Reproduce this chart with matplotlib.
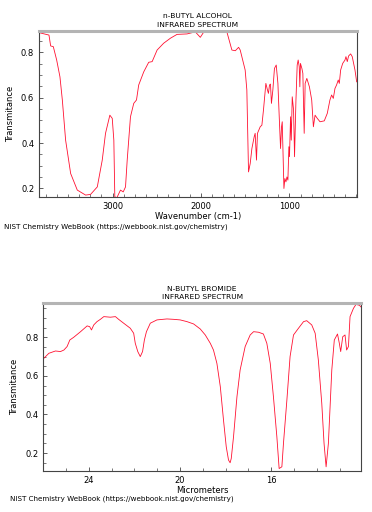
import numpy as np
import matplotlib.pyplot as plt
from matplotlib.ticker import MultipleLocator

# %% DATA: n-butyl alcohol (wavenumber, transmittance)
alcohol_wn = [3834, 3718, 3699, 3669, 3631, 3594, 3567, 3530, 3473, 3398, 3304, 3248,
              3172, 3116, 3079, 3030, 3003, 2985, 2974, 2950, 2910, 2879, 2853, 2834,
              2797, 2760, 2729, 2704, 2647, 2591, 2552, 2496, 2422, 2346, 2271, 2158,
              2064, 2008, 1971, 1858, 1707, 1651, 1612, 1575, 1557, 1501, 1482, 1463,
              1444, 1425, 1399, 1388, 1373, 1362, 1331, 1312, 1294, 1267, 1249, 1238,
              1226, 1215, 1204, 1188, 1170, 1150, 1131, 1116, 1101, 1090, 1082, 1071,
              1063, 1052, 1040, 1029, 1018, 1007, 1000, 988, 980, 969, 954, 943, 927,
              913, 902, 890, 883, 876, 860, 849, 834, 823, 804, 775, 749, 730, 711,
              686, 655, 607, 573, 543, 524, 505, 486, 468, 449, 437, 422, 399, 373,
              362, 347, 332, 309, 291, 260, 241]
alcohol_t = [0.887, 0.876, 0.828, 0.825, 0.766, 0.692, 0.590, 0.413, 0.266, 0.193, 0.171, 0.174,
             0.207, 0.325, 0.443, 0.523, 0.509, 0.413, 0.163, 0.160, 0.193, 0.185, 0.207, 0.325,
             0.516, 0.575, 0.590, 0.656, 0.714, 0.756, 0.759, 0.810, 0.840, 0.862, 0.879, 0.881,
             0.890, 0.866, 0.888, 0.892, 0.889, 0.810, 0.807, 0.822, 0.810, 0.722, 0.634, 0.273,
             0.310, 0.376, 0.428, 0.443, 0.325, 0.443, 0.472, 0.479, 0.546, 0.663, 0.634, 0.619,
             0.656, 0.660, 0.575, 0.634, 0.729, 0.744, 0.663, 0.516, 0.376, 0.472, 0.494, 0.325,
             0.200, 0.244, 0.229, 0.251, 0.237, 0.384, 0.340, 0.516, 0.413, 0.604, 0.546, 0.340, 0.590,
             0.744, 0.766, 0.737, 0.648, 0.751, 0.729, 0.707, 0.443, 0.663, 0.685, 0.648, 0.590, 0.472, 0.523,
             0.509, 0.494, 0.498, 0.531, 0.590, 0.612, 0.597, 0.641, 0.656, 0.678, 0.663, 0.722, 0.751, 0.766,
             0.781, 0.759, 0.784, 0.793, 0.781, 0.722, 0.670]

# %% DATA: n-butyl bromide (micrometers, transmittance)
bromide_um = [25.97, 25.75, 25.46, 25.24, 25.09, 24.95, 24.83, 24.66, 24.36, 24.07, 23.96, 23.88,
              23.78, 23.64, 23.49, 23.34, 23.05, 22.83, 22.69, 22.47, 22.18, 22.03, 21.96, 21.85,
              21.74, 21.64, 21.56, 21.47, 21.30, 21.01, 20.57, 20.28, 19.99, 19.69, 19.40, 19.11,
              18.89, 18.67, 18.53, 18.38, 18.23, 18.09, 17.97, 17.87, 17.80, 17.75, 17.65, 17.50,
              17.36, 17.14, 16.92, 16.77, 16.55, 16.34, 16.19, 16.04, 15.90, 15.75, 15.65, 15.53,
              15.46, 15.31, 15.17, 15.02, 14.80, 14.58, 14.44, 14.22, 14.07, 13.93, 13.78, 13.68,
              13.59, 13.49, 13.34, 13.23, 13.09, 13.01, 12.95, 12.86, 12.76, 12.69, 12.61, 12.54,
              12.39, 12.28, 12.13, 12.05]
bromide_t = [0.691, 0.717, 0.729, 0.726, 0.734, 0.752, 0.786, 0.800, 0.829, 0.859, 0.855, 0.838,
             0.864, 0.881, 0.893, 0.907, 0.904, 0.907, 0.893, 0.873, 0.847, 0.821, 0.769, 0.726,
             0.700, 0.726, 0.786, 0.829, 0.873, 0.890, 0.895, 0.893, 0.890, 0.881, 0.869, 0.843,
             0.812, 0.769, 0.734, 0.665, 0.544, 0.371, 0.233, 0.164, 0.150, 0.172, 0.285, 0.492,
             0.631, 0.752, 0.812, 0.829, 0.826, 0.817, 0.769, 0.665, 0.492, 0.285, 0.120, 0.129,
             0.250, 0.475, 0.700, 0.812, 0.847, 0.881, 0.886, 0.864, 0.821, 0.682, 0.458, 0.250,
             0.129, 0.250, 0.631, 0.786, 0.817, 0.769, 0.726, 0.803, 0.812, 0.734, 0.752, 0.907,
             0.950, 0.970, 0.966, 0.956]

# %% PLOT
plt.rcParams['font.family'] = 'DejaVu Sans'
plt.rcParams['font.size'] = 6

fig = plt.figure(figsize=(3.72, 5.12), dpi=100)
footer = 'NIST Chemistry WebBook (https://webbook.nist.gov/chemistry)'


def style_axes(ax):
    for side in ['left', 'bottom', 'right']:
        ax.spines[side].set_color('#444444')
        ax.spines[side].set_linewidth(0.8)
    ax.spines['top'].set_color('#b4b4b4')
    ax.spines['top'].set_linewidth(2.2)
    ax.tick_params(which='both', direction='in', top=False, right=False,
                   colors='#444444', labelcolor='black', labelsize=6)
    ax.tick_params(which='major', length=3, width=0.6)
    ax.tick_params(which='minor', length=2, width=0.5)
    ax.yaxis.set_major_locator(MultipleLocator(0.2))
    ax.yaxis.set_minor_locator(MultipleLocator(0.05))


ax1 = fig.add_axes([0.105, 0.615, 0.854, 0.3245])
ax1.plot(alcohol_wn, alcohol_t, color='#ff1030', linewidth=0.6)
ax1.set_xlim(3830, 240)
ax1.set_ylim(0.162, 0.894)
style_axes(ax1)
ax1.xaxis.set_major_locator(MultipleLocator(1000))
ax1.xaxis.set_minor_locator(MultipleLocator(125))
ax1.set_xlabel('Wavenumber (cm-1)', fontsize=6, labelpad=1)
ax1.set_ylabel('Transmitance', fontsize=6, labelpad=4)
ax1.set_title('n-BUTYL ALCOHOL\nINFRARED SPECTRUM', fontsize=5.4, pad=3, linespacing=1.5)
fig.text(0.012, 0.557, footer, fontsize=5.1, va='center')

ax2 = fig.add_axes([0.116, 0.080, 0.855, 0.3276])
ax2.plot(bromide_um, bromide_t, color='#ff1030', linewidth=0.6)
ax2.set_xlim(26, 12.05)
ax2.set_ylim(0.107, 0.976)
style_axes(ax2)
ax2.xaxis.set_major_locator(MultipleLocator(4))
ax2.xaxis.set_minor_locator(MultipleLocator(1))
ax2.set_xlabel('Micrometers', fontsize=6, labelpad=1)
ax2.set_ylabel('Transmitance', fontsize=6, labelpad=4)
ax2.set_title('N-BUTYL BROMIDE\nINFRARED SPECTRUM', fontsize=5.4, pad=3, linespacing=1.5)
fig.text(0.027, 0.025, footer, fontsize=5.1, va='center')

fig.savefig('out.png', dpi=100)
